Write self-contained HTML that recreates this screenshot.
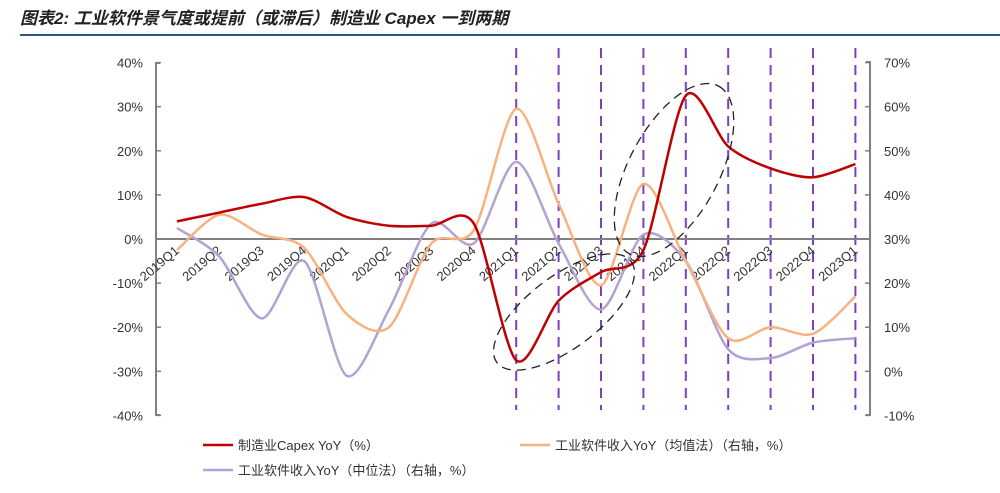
<!DOCTYPE html>
<html><head><meta charset="utf-8"><style>
body{margin:0;background:#fff;width:1000px;height:488px;overflow:hidden;font-family:"Liberation Sans","Noto Sans CJK SC",sans-serif}
</style></head><body>
<svg width="1000" height="488" xmlns="http://www.w3.org/2000/svg">
<text x="20" y="24" font-size="17" font-weight="bold" font-style="italic" fill="#222" font-family="Liberation Sans,Noto Sans CJK SC,sans-serif">图表2:  工业软件景气度或提前（或滞后）制造业 Capex 一到两期</text>
<line x1="20" y1="35" x2="1000" y2="35" stroke="#2a5580" stroke-width="2"/>
<g id="g"></g>
</svg>
<script>
const categories=["2019Q1","2019Q2","2019Q3","2019Q4","2020Q1","2020Q2","2020Q3","2020Q4","2021Q1","2021Q2","2021Q3","2021Q4","2022Q1","2022Q2","2022Q3","2022Q4","2023Q1"];
const capex=[4,6,8,9.5,5,3,3,3.5,-27.5,-14,-7.5,-2.5,32.5,21,16,14,17];
const swMean=[27.5,35.5,31,28,13,10,29,32,59.5,38,19.5,42.5,25,7.5,10,8.5,17];
const swMedian=[32.5,26,12,25,-1,14,33.5,29,47.5,29,14,31,25,5,3,6.5,7.5];
const leftTicks=[40,30,20,10,0,-10,-20,-30,-40];
const rightTicks=[70,60,50,40,30,20,10,0,-10];
const dashedFrom=8;
const NS="http://www.w3.org/2000/svg";
const g=document.getElementById('g');
const x0=177,dx=42.4;
const xS=i=>x0+i*dx;
const yL=v=>239-v*4.41;
const yR=v=>239-(v-30)*4.41;
function el(t,a){const e=document.createElementNS(NS,t);for(const k in a)e.setAttribute(k,a[k]);g.appendChild(e);return e;}
for(let i=dashedFrom;i<categories.length;i++){const l=el('line',{x1:xS(i),x2:xS(i),y1:48,y2:410,stroke:'#7b3fc4','stroke-width':2,'stroke-dasharray':'10,7'});

}
const ax=el('path',{d:`M160 63 H156 V415 H160`,stroke:'#808080','stroke-width':2,fill:'none'});


const ax2=el('path',{d:`M866 62 H870 V415 H866`,stroke:'#808080','stroke-width':2,fill:'none'});


const z=el('line',{x1:156,x2:870,y1:yL(0),y2:yL(0),stroke:'#808080','stroke-width':2});


leftTicks.forEach(v=>{const t=el('text',{x:143,y:yL(v)+5,'text-anchor':'end','font-size':13,fill:'#333'});t.textContent=v+'%';


const tk=el('line',{x1:156,x2:161,y1:yL(v),y2:yL(v),stroke:'#808080','stroke-width':1.5});

});
rightTicks.forEach(v=>{const t=el('text',{x:884,y:yR(v)+5,'font-size':13,fill:'#333'});t.textContent=v+'%';


const tk=el('line',{x1:865,x2:870,y1:yR(v),y2:yR(v),stroke:'#808080','stroke-width':1.5});

});
categories.forEach((c,i)=>{const t=el('text',{x:xS(i)+3,y:252,'text-anchor':'end','font-size':13,fill:'#333',transform:`rotate(-40 ${xS(i)+3} 252)`});t.textContent=c;

});
function smooth(pts){let d=`M${pts[0][0]},${pts[0][1]}`;for(let i=0;i<pts.length-1;i++){const p0=pts[Math.max(0,i-1)],p1=pts[i],p2=pts[i+1],p3=pts[Math.min(pts.length-1,i+2)];const k=1/7;
d+=` C${p1[0]+(p2[0]-p0[0])*k},${p1[1]+(p2[1]-p0[1])*k} ${p2[0]-(p3[0]-p1[0])*k},${p2[1]-(p3[1]-p1[1])*k} ${p2[0]},${p2[1]}`;}return d;}
function series(vals,ys,color,name){const p=el('path',{d:smooth(vals.map((v,i)=>[xS(i),ys(v)])),stroke:color,'stroke-width':2.5,fill:'none'});

}
series(swMedian,yR,'#b4a2d2','line-software-median');
series(swMean,yR,'#f7b27f','line-software-mean');
series(capex,yL,'#c00000','line-capex');
const e1=el('ellipse',{cx:564,cy:312,rx:84,ry:36,transform:'rotate(-37 564 312)',fill:'none',stroke:'#222','stroke-width':1.3,'stroke-dasharray':'9,6'});


const e2=el('ellipse',{cx:674,cy:170,rx:95,ry:45,transform:'rotate(-62 674 170)',fill:'none',stroke:'#222','stroke-width':1.3,'stroke-dasharray':'9,6'});


const leg=[[203,445,'#c00000','制造业Capex YoY（%）','legend-capex'],[520,445,'#f7b27f','工业软件收入YoY（均值法）（右轴，%）','legend-software-mean'],[203,470,'#b4a2d2','工业软件收入YoY（中位法）（右轴，%）','legend-software-median']];
leg.forEach(l=>{const ln=el('line',{x1:l[0],x2:l[0]+30,y1:l[1],y2:l[1],stroke:l[2],'stroke-width':2.5});


const t=el('text',{x:l[0]+35,y:l[1]+5,'font-size':13,fill:'#333'});t.textContent=l[3];

});
</script>
</body></html>
